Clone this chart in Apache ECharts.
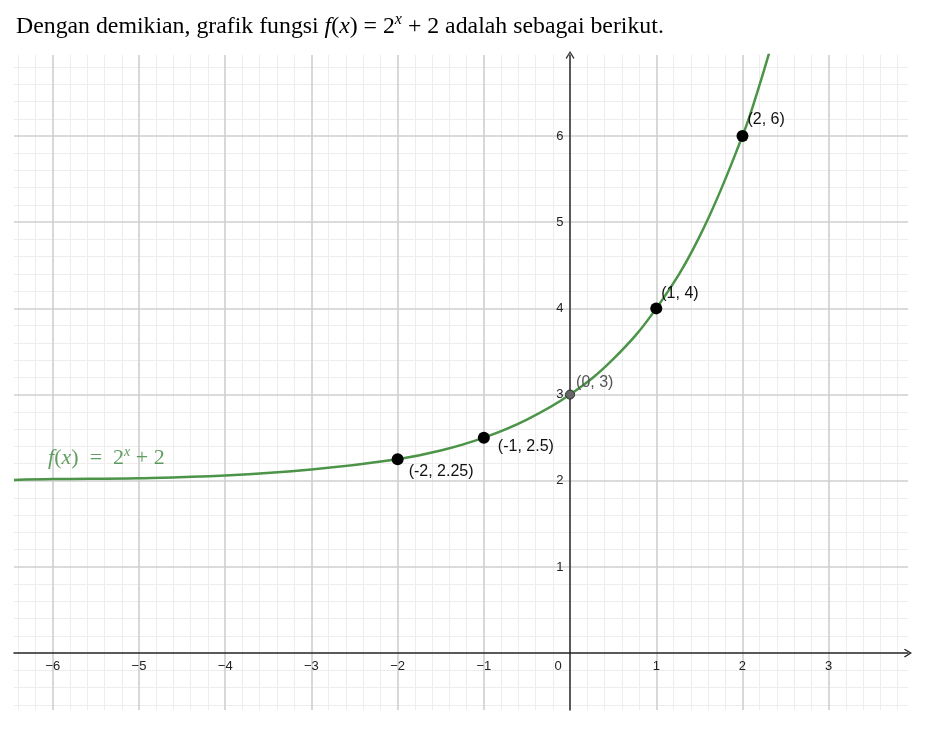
<!DOCTYPE html>
<html>
<head>
<meta charset="utf-8">
<script src="https://cdn.jsdelivr.net/npm/echarts@6/dist/echarts.min.js"></script>
<style>
    html, body { margin: 0; padding: 0; background: #fff; }
    #chart { width: 942px; height: 733px; }
</style>
</head>
<body>
<div id="chart"></div>
<script>
// kurva f(x) = 2^x + 2, titik
const curveX = [-6.45, -6, -5, -4, -3, -2, -1.5, -1, -0.5, 0, 0.5, 1, 1.5, 2, 2.2, 2.4];
const curveY = [2.01, 2.02, 2.03, 2.06, 2.13, 2.25, 2.35, 2.5, 2.71, 3, 3.41, 4, 4.83, 6, 6.6, 7.28];

// titik hitam berlabel
const pointX = [-2, -1, 1, 2];
const pointY = [2.25, 2.5, 4, 6];
const pointText = ['(-2, 2.25)', '(-1, 2.5)', '(1, 4)', '(2, 6)'];

// titik potong sumbu y
const originX = [0];
const originY = [3];
const originText = ['(0, 3)'];

// label sumbu
const xTicks = [-6, -5, -4, -3, -2, -1, 0, 1, 2, 3];
const xTickLabels = ['\u22126', '\u22125', '\u22124', '\u22123', '\u22122', '\u22121', '0', '1', '2', '3'];
const yTicks = [1, 2, 3, 4, 5, 6];
const yTickLabels = ['1', '2', '3', '4', '5', '6'];

const X_MIN = -6.45, X_MAX = 3.92;
const Y_MIN = -0.66, Y_MAX = 6.94;

// garis grid kecil tiap 0.2
const minorX = [], minorY = [];
for (let i = -32; i <= 19; i++) if (i % 5 !== 0) minorX.push(i / 5);
for (let i = -3; i <= 34; i++) if (i % 5 !== 0) minorY.push(i / 5);

const minorLine = { color: '#ededed', width: 1, type: 'solid' };
const majorLine = { color: '#cfcfcf', width: 1.6, type: 'solid' };

const chevron = 'path://M5,0 L10,8 L8.8,9 L5,2.6 L1.2,9 L0,8 Z';
const labelFont = '"Liberation Sans", Arial, sans-serif';
const serif = '"Liberation Serif", "Times New Roman", serif';

const gridLines = []
    .concat(minorX.map(v => ({ xAxis: v, lineStyle: minorLine })))
    .concat(minorY.map(v => ({ yAxis: v, lineStyle: minorLine })))
    .concat(xTicks.map(v => ({ xAxis: v, lineStyle: majorLine })))
    .concat(yTicks.map(v => ({ yAxis: v, lineStyle: majorLine })));

// posisi label titik (seperti di gambar)
const pointLabelOffset = [[5, 12], [8, 9], [-1, -15], [-1, -16]];

const chart = echarts.init(document.getElementById('chart'));
const option = {
    animation: false,
    backgroundColor: '#fff',
    title: {
        left: 11,
        top: 7,
        text: '{n|Dengan demikian, grafik fungsi }{i|f}{n|(}{i|x}{n|) = 2}{s|x}{n| + 2 adalah sebagai berikut.}',
        textStyle: {
            fontWeight: 'normal',
            rich: {
                n: { fontFamily: serif, fontSize: 23.8, fontWeight: 'normal', color: '#000', lineHeight: 30 },
                i: { fontFamily: serif, fontSize: 23.8, fontWeight: 'normal', fontStyle: 'italic', color: '#000', lineHeight: 30 },
                s: { fontFamily: serif, fontSize: 16, fontWeight: 'normal', fontStyle: 'italic', color: '#000', lineHeight: 16, verticalAlign: 'top' }
            }
        }
    },
    grid: {
        left: 14,
        right: 34,
        top: 55,
        bottom: 23
    },
    xAxis: {
        type: 'value',
        min: X_MIN,
        max: X_MAX,
        z: 2,
        axisLine: {
            onZero: true,
            symbol: ['none', chevron],
            symbolSize: [11, 8],
            lineStyle: { color: '#252525', width: 1.6 }
        },
        axisTick: { show: false },
        axisLabel: { show: false },
        splitLine: { show: false }
    },
    yAxis: {
        type: 'value',
        min: Y_MIN,
        max: Y_MAX,
        z: 2,
        axisLine: {
            onZero: true,
            symbol: ['none', chevron],
            symbolSize: [11, 8],
            lineStyle: { color: '#3a3a3a', width: 1.6 }
        },
        axisTick: { show: false },
        axisLabel: { show: false },
        splitLine: { show: false }
    },
    series: [
        {
            name: 'grid',
            type: 'line',
            data: [],
            z: 1,
            silent: true,
            markLine: {
                silent: true,
                z: 1,
                symbol: 'none',
                animation: false,
                label: { show: false },
                data: gridLines
            }
        },
        {
            name: 'f(x)',
            type: 'line',
            data: curveX.map((x, i) => [x, curveY[i]]),
            smooth: 0.4,
            showSymbol: false,
            z: 3,
            lineStyle: { color: '#4b9448', width: 2.5 }
        },
        {
            name: 'formula',
            type: 'scatter',
            data: [[-6.06, 2.26]],
            symbolSize: 1,
            itemStyle: { color: 'rgba(0,0,0,0)' },
            z: 4,
            silent: true,
            label: {
                show: true,
                position: 'right',
                distance: 0,
                formatter: '{i|f}{n|(}{i|x}{n|)}{n|  =  }{n|2}{s|x}{n| + 2}',
                rich: {
                    n: { fontFamily: serif, fontSize: 22, color: '#3a853a', lineHeight: 26 },
                    i: { fontFamily: serif, fontSize: 22, fontStyle: 'italic', color: '#3a853a', lineHeight: 26 },
                    s: { fontFamily: serif, fontSize: 14, fontStyle: 'italic', color: '#3a853a', lineHeight: 14, verticalAlign: 'top' }
                }
            }
        },
        {
            name: 'titik',
            type: 'scatter',
            data: pointX.map((x, i) => ({
                value: [x, pointY[i]],
                label: { offset: pointLabelOffset[i] }
            })),
            symbolSize: 12,
            z: 5,
            itemStyle: { color: '#000', opacity: 1 },
            label: {
                show: true,
                position: 'right',
                distance: 0,
                fontFamily: labelFont,
                fontSize: 16,
                color: '#111',
                formatter: p => pointText[p.dataIndex]
            }
        },
        {
            name: 'titik0',
            type: 'scatter',
            data: originX.map((x, i) => [x, originY[i]]),
            symbolSize: 9,
            z: 5,
            itemStyle: { color: '#666', borderColor: '#2a2a2a', borderWidth: 1, opacity: 1 },
            label: {
                show: true,
                position: 'right',
                distance: 1,
                offset: [0, -12],
                fontFamily: labelFont,
                fontSize: 16,
                color: '#555',
                formatter: p => originText[p.dataIndex]
            }
        },
        {
            name: 'xlabel',
            type: 'scatter',
            data: xTicks.map(v => ({
                value: [v, 0],
                label: { offset: v === 0 ? [-12, 0] : [0, 0] }
            })),
            symbolSize: 1,
            itemStyle: { color: 'rgba(0,0,0,0)', opacity: 1 },
            z: 4,
            silent: true,
            label: {
                show: true,
                position: 'bottom',
                distance: 6,
                fontFamily: labelFont,
                fontSize: 13,
                color: '#222',
                formatter: p => xTickLabels[p.dataIndex]
            }
        },
        {
            name: 'ylabel',
            type: 'scatter',
            data: yTicks.map(v => [0, v]),
            symbolSize: 1,
            itemStyle: { color: 'rgba(0,0,0,0)', opacity: 1 },
            z: 4,
            silent: true,
            label: {
                show: true,
                position: 'left',
                distance: 6,
                fontFamily: labelFont,
                fontSize: 13,
                color: '#222',
                formatter: p => yTickLabels[p.dataIndex]
            }
        }
    ]
};
chart.setOption(option);
</script>
</body>
</html>
